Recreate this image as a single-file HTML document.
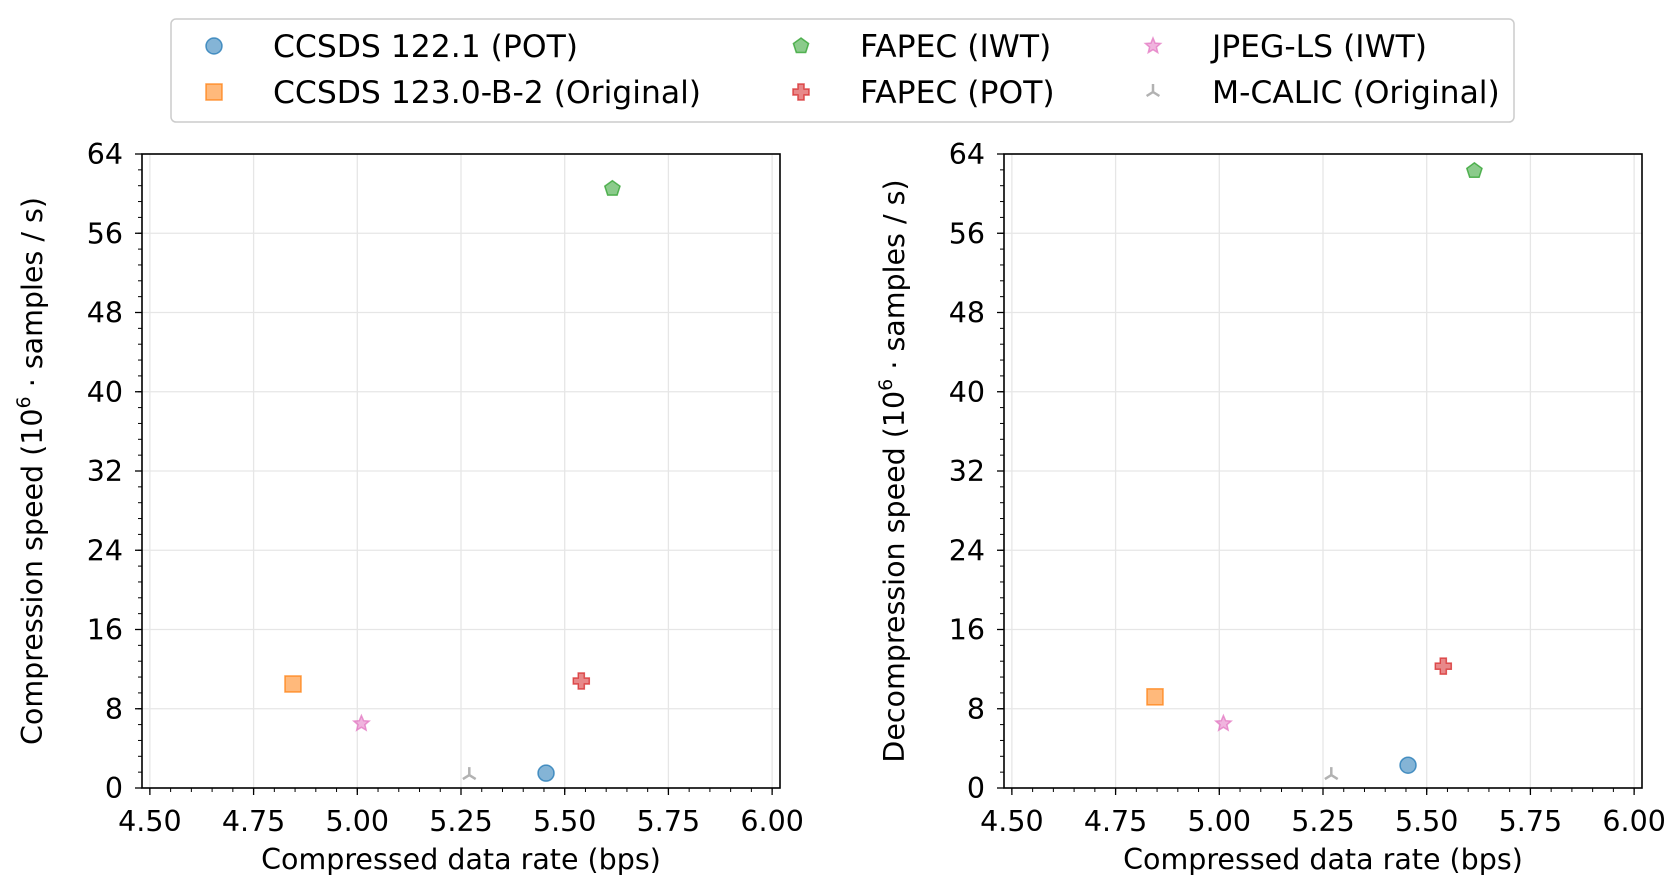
<!DOCTYPE html>
<html><head><meta charset="utf-8"><style>
html,body{margin:0;padding:0;background:#fff;}
svg{display:block;font-family:"DejaVu Sans","Liberation Sans",sans-serif;}
</style></head><body>
<svg id="s" width="1678" height="887" xmlns="http://www.w3.org/2000/svg"></svg>
<script>
const S=document.getElementById('s');let h='';
const C={b:'#1f77b4',o:'#ff7f0e',g:'#2ca02c',r:'#d62728',p:'#e377c2',k:'#7f7f7f'};
function mk(t,x,y,sz){const c=C[t];const a=`fill="${c}" fill-opacity="0.55" stroke="${c}" stroke-opacity="0.75" stroke-width="1.5"`;
 const r=sz/2;
 if(t=='b')return `<circle cx="${x}" cy="${y}" r="${r}" ${a}/>`;
 if(t=='o')return `<rect x="${x-r}" y="${y-r}" width="${sz}" height="${sz}" ${a}/>`;
 if(t=='g'){let p=[];for(let i=0;i<5;i++){const an=-Math.PI/2+i*2*Math.PI/5;p.push((x+r*Math.cos(an)).toFixed(1)+','+(y+r*Math.sin(an)).toFixed(1));}return `<polygon points="${p.join(' ')}" ${a}/>`;}
 if(t=='r'){const w=r*0.38;return `<path d="M${x-w},${y-r}h${2*w}v${r-w}h${r-w}v${2*w}h${-(r-w)}v${r-w}h${-2*w}v${-(r-w)}h${-(r-w)}v${-2*w}h${r-w}z" ${a}/>`;}
 if(t=='p'){let p=[];for(let i=0;i<10;i++){const an=-Math.PI/2+i*Math.PI/5;const rr=i%2?r*0.45:r;p.push((x+rr*Math.cos(an)).toFixed(1)+','+(y+rr*Math.sin(an)).toFixed(1));}return `<polygon points="${p.join(' ')}" ${a}/>`;}
 if(t=='k')return `<g stroke="${c}" stroke-opacity="0.6" stroke-width="2.5" fill="none"><path d="M${x},${y}v${-r}M${x},${y}l${-r*0.8},${r*0.5}M${x},${y}l${r*0.8},${r*0.5}"/></g>`;
}
function panel(L,R,ylab,pts){
 const T=154,B=788,x0=4.481,x1=6.019;
 const X=v=>L+(v-x0)/(x1-x0)*(R-L), Y=v=>B-v/64*(B-T);
 for(let i=0;i<=6;i++){const v=4.5+i*0.25,x=X(v);h+=`<line x1="${x}" y1="${T}" x2="${x}" y2="${B}" stroke="#e6e6e6" stroke-width="1.3"/>`;}
 for(let v=0;v<=64;v+=8){const y=Y(v);h+=`<line x1="${L}" y1="${y}" x2="${R}" y2="${y}" stroke="#e6e6e6" stroke-width="1.3"/>`;}
 for(const p of pts)h+=mk(p[0],X(p[1]),Y(p[2]),16);
 h+=`<rect x="${L}" y="${T}" width="${R-L}" height="${B-T}" fill="none" stroke="#000" stroke-width="1.6"/>`;
 for(let i=0;i<=6;i++){const v=4.5+i*0.25,x=X(v);h+=`<line x1="${x}" y1="${B}" x2="${x}" y2="${B+7}" stroke="#000" stroke-width="1.3"/><text x="${x}" y="831" font-size="28.5" text-anchor="middle">${v.toFixed(2)}</text>`;}
 for(let v=4.5;v<=6.0001;v+=0.05){const x=X(v);h+=`<line x1="${x}" y1="${B}" x2="${x}" y2="${B+4}" stroke="#000" stroke-width="1"/>`;}
 for(let v=0;v<=64;v+=8){const y=Y(v);h+=`<line x1="${L}" y1="${y}" x2="${L-7}" y2="${y}" stroke="#000" stroke-width="1.3"/><text x="${L-19}" y="${y+10}" font-size="28.5" text-anchor="end">${v}</text>`;}
 for(let v=0;v<=64;v+=1.6){const y=Y(v);h+=`<line x1="${L}" y1="${y}" x2="${L-4}" y2="${y}" stroke="#000" stroke-width="1"/>`;}
 h+=`<text x="${(L+R)/2}" y="869" font-size="28.5" text-anchor="middle">Compressed data rate (bps)</text>`;
 const cx=L-100,cy=(T+B)/2;
 h+=`<text transform="translate(${cx},${cy}) rotate(-90)" font-size="28.5" text-anchor="middle">${ylab} (10<tspan font-size="19" dy="-12">6</tspan><tspan dy="12"> · samples / s)</tspan></text>`;
}
panel(142,780,'Compression speed',[['o',4.845,10.5],['p',5.01,6.5],['k',5.27,1.3],['b',5.455,1.5],['r',5.54,10.8],['g',5.615,60.5]]);
panel(1004,1642,'Decompression speed',[['o',4.845,9.2],['p',5.01,6.5],['k',5.27,1.3],['b',5.455,2.3],['r',5.54,12.3],['g',5.615,62.3]]);
h+=`<rect x="171" y="19" width="1343" height="103" rx="5" fill="#fff" fill-opacity="0.8" stroke="#cccccc" stroke-width="1.5"/>`;
const lg=[['b',214,46,273,'CCSDS 122.1 (POT)'],['o',214,92,273,'CCSDS 123.0-B-2 (Original)'],['g',801,46,860,'FAPEC (IWT)'],['r',801,92,860,'FAPEC (POT)'],['p',1153,46,1212,'JPEG-LS (IWT)'],['k',1153,92,1212,'M-CALIC (Original)']];
for(const l of lg){h+=mk(l[0],l[1],l[2],16);h+=`<text x="${l[3]}" y="${l[2]+11}" font-size="31.4">${l[4]}</text>`;}
S.innerHTML=h;
</script>
</body></html>
